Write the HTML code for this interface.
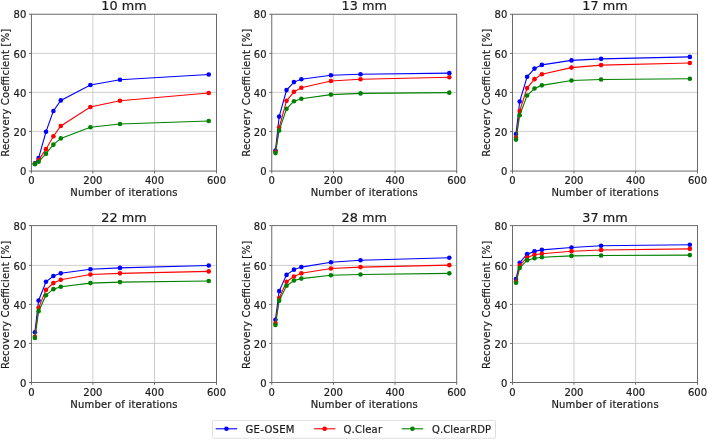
<!DOCTYPE html>
<html><head><meta charset="utf-8"><title>Recovery Coefficient</title>
<style>html,body{margin:0;padding:0;background:#fff;overflow:hidden;}svg{display:block;}</style>
</head><body>
<svg width="707" height="440" viewBox="0 0 707 440">
<style>
.gr{stroke:#c8c8c8;stroke-width:0.9;}
.sp{fill:none;stroke:#6a6a6a;stroke-width:1;}
.tk{stroke:#6a6a6a;stroke-width:1;}
text{font-family:'DejaVu Sans', 'Liberation Sans', sans-serif;fill:#1a1a1a;stroke:#1a1a1a;stroke-width:0.2px;}
.tl{font-size:10px;}
.lb{font-size:10px;}
.lg{font-size:10px;}
.ti{font-size:12.8px;}
</style>
<rect width="707" height="440" fill="#fff"/>
<line x1="92.85" y1="14.27" x2="92.85" y2="171.07" class="gr"/>
<line x1="154.5" y1="14.27" x2="154.5" y2="171.07" class="gr"/>
<line x1="31.45" y1="131.4" x2="216.5" y2="131.4" class="gr"/>
<line x1="31.45" y1="92.4" x2="216.5" y2="92.4" class="gr"/>
<line x1="31.45" y1="53.4" x2="216.5" y2="53.4" class="gr"/>
<polyline points="34.9,163.38 38.6,158.12 46,131.79 53.39,110.93 60.79,100.4 90.38,84.99 119.98,79.73 208.75,74.46" fill="none" stroke="#0000ff" stroke-width="1.1"/>
<circle cx="34.9" cy="163.38" r="2.3" fill="#0000ff"/>
<circle cx="38.6" cy="158.12" r="2.3" fill="#0000ff"/>
<circle cx="46" cy="131.79" r="2.3" fill="#0000ff"/>
<circle cx="53.39" cy="110.93" r="2.3" fill="#0000ff"/>
<circle cx="60.79" cy="100.4" r="2.3" fill="#0000ff"/>
<circle cx="90.38" cy="84.99" r="2.3" fill="#0000ff"/>
<circle cx="119.98" cy="79.73" r="2.3" fill="#0000ff"/>
<circle cx="208.75" cy="74.46" r="2.3" fill="#0000ff"/>
<polyline points="34.9,163.77 38.6,160.06 46,149.15 53.39,136.28 60.79,125.94 90.38,107.03 119.98,100.78 208.75,92.98" fill="none" stroke="#ff0000" stroke-width="1.1"/>
<circle cx="34.9" cy="163.77" r="2.3" fill="#ff0000"/>
<circle cx="38.6" cy="160.06" r="2.3" fill="#ff0000"/>
<circle cx="46" cy="149.15" r="2.3" fill="#ff0000"/>
<circle cx="53.39" cy="136.28" r="2.3" fill="#ff0000"/>
<circle cx="60.79" cy="125.94" r="2.3" fill="#ff0000"/>
<circle cx="90.38" cy="107.03" r="2.3" fill="#ff0000"/>
<circle cx="119.98" cy="100.78" r="2.3" fill="#ff0000"/>
<circle cx="208.75" cy="92.98" r="2.3" fill="#ff0000"/>
<polyline points="34.9,164.16 38.6,161.82 46,153.63 53.39,144.66 60.79,138.42 90.38,127.31 119.98,123.99 208.75,121.06" fill="none" stroke="#008000" stroke-width="1.1"/>
<circle cx="34.9" cy="164.16" r="2.3" fill="#008000"/>
<circle cx="38.6" cy="161.82" r="2.3" fill="#008000"/>
<circle cx="46" cy="153.63" r="2.3" fill="#008000"/>
<circle cx="53.39" cy="144.66" r="2.3" fill="#008000"/>
<circle cx="60.79" cy="138.42" r="2.3" fill="#008000"/>
<circle cx="90.38" cy="127.31" r="2.3" fill="#008000"/>
<circle cx="119.98" cy="123.99" r="2.3" fill="#008000"/>
<circle cx="208.75" cy="121.06" r="2.3" fill="#008000"/>
<rect x="31.45" y="14.27" width="185.05" height="156.8" class="sp"/>
<line x1="31.45" y1="171.07" x2="31.45" y2="173.37" class="tk"/>
<text x="31.45" y="183.87" text-anchor="middle" class="tl">0</text>
<line x1="92.85" y1="171.07" x2="92.85" y2="173.37" class="tk"/>
<text x="92.85" y="183.87" text-anchor="middle" class="tl">200</text>
<line x1="154.5" y1="171.07" x2="154.5" y2="173.37" class="tk"/>
<text x="154.5" y="183.87" text-anchor="middle" class="tl">400</text>
<line x1="216.5" y1="171.07" x2="216.5" y2="173.37" class="tk"/>
<text x="216.5" y="183.87" text-anchor="middle" class="tl">600</text>
<line x1="28.95" y1="171.07" x2="31.45" y2="171.07" class="tk"/>
<text x="26.25" y="174.67" text-anchor="end" class="tl">0</text>
<line x1="28.95" y1="131.4" x2="31.45" y2="131.4" class="tk"/>
<text x="26.25" y="135.6" text-anchor="end" class="tl">20</text>
<line x1="28.95" y1="92.4" x2="31.45" y2="92.4" class="tk"/>
<text x="26.25" y="96.6" text-anchor="end" class="tl">40</text>
<line x1="28.95" y1="53.4" x2="31.45" y2="53.4" class="tk"/>
<text x="26.25" y="57.6" text-anchor="end" class="tl">60</text>
<line x1="28.95" y1="14.27" x2="31.45" y2="14.27" class="tk"/>
<text x="26.25" y="17.87" text-anchor="end" class="tl">80</text>
<text x="123.97" y="10.37" text-anchor="middle" class="ti">10 mm</text>
<text x="123.97" y="195.67" text-anchor="middle" textLength="107.2" lengthAdjust="spacing" class="lb">Number of iterations</text>
<text transform="translate(9.25,92.72) rotate(-90)" x="0" y="0" text-anchor="middle" textLength="128" lengthAdjust="spacing" class="lb">Recovery Coefficient [%]</text>
<line x1="333.4" y1="14.27" x2="333.4" y2="171.07" class="gr"/>
<line x1="395.05" y1="14.27" x2="395.05" y2="171.07" class="gr"/>
<line x1="271.75" y1="131.4" x2="456.7" y2="131.4" class="gr"/>
<line x1="271.75" y1="92.4" x2="456.7" y2="92.4" class="gr"/>
<line x1="271.75" y1="53.4" x2="456.7" y2="53.4" class="gr"/>
<polyline points="275.45,150.55 279.15,116.62 286.55,90.1 293.94,82.11 301.34,79.18 330.93,75.28 360.53,74.31 449.3,73.14" fill="none" stroke="#0000ff" stroke-width="1.1"/>
<circle cx="275.45" cy="150.55" r="2.3" fill="#0000ff"/>
<circle cx="279.15" cy="116.62" r="2.3" fill="#0000ff"/>
<circle cx="286.55" cy="90.1" r="2.3" fill="#0000ff"/>
<circle cx="293.94" cy="82.11" r="2.3" fill="#0000ff"/>
<circle cx="301.34" cy="79.18" r="2.3" fill="#0000ff"/>
<circle cx="330.93" cy="75.28" r="2.3" fill="#0000ff"/>
<circle cx="360.53" cy="74.31" r="2.3" fill="#0000ff"/>
<circle cx="449.3" cy="73.14" r="2.3" fill="#0000ff"/>
<polyline points="275.45,151.72 279.15,127.54 286.55,100.83 293.94,91.86 301.34,87.76 330.93,80.94 360.53,79.18 449.3,77.23" fill="none" stroke="#ff0000" stroke-width="1.1"/>
<circle cx="275.45" cy="151.72" r="2.3" fill="#ff0000"/>
<circle cx="279.15" cy="127.54" r="2.3" fill="#ff0000"/>
<circle cx="286.55" cy="100.83" r="2.3" fill="#ff0000"/>
<circle cx="293.94" cy="91.86" r="2.3" fill="#ff0000"/>
<circle cx="301.34" cy="87.76" r="2.3" fill="#ff0000"/>
<circle cx="330.93" cy="80.94" r="2.3" fill="#ff0000"/>
<circle cx="360.53" cy="79.18" r="2.3" fill="#ff0000"/>
<circle cx="449.3" cy="77.23" r="2.3" fill="#ff0000"/>
<polyline points="275.45,153.09 279.15,130.47 286.55,108.82 293.94,101.22 301.34,98.68 330.93,94.59 360.53,93.42 449.3,92.64" fill="none" stroke="#008000" stroke-width="1.1"/>
<circle cx="275.45" cy="153.09" r="2.3" fill="#008000"/>
<circle cx="279.15" cy="130.47" r="2.3" fill="#008000"/>
<circle cx="286.55" cy="108.82" r="2.3" fill="#008000"/>
<circle cx="293.94" cy="101.22" r="2.3" fill="#008000"/>
<circle cx="301.34" cy="98.68" r="2.3" fill="#008000"/>
<circle cx="330.93" cy="94.59" r="2.3" fill="#008000"/>
<circle cx="360.53" cy="93.42" r="2.3" fill="#008000"/>
<circle cx="449.3" cy="92.64" r="2.3" fill="#008000"/>
<rect x="271.75" y="14.27" width="184.95" height="156.8" class="sp"/>
<line x1="271.75" y1="171.07" x2="271.75" y2="173.37" class="tk"/>
<text x="271.75" y="183.87" text-anchor="middle" class="tl">0</text>
<line x1="333.4" y1="171.07" x2="333.4" y2="173.37" class="tk"/>
<text x="333.4" y="183.87" text-anchor="middle" class="tl">200</text>
<line x1="395.05" y1="171.07" x2="395.05" y2="173.37" class="tk"/>
<text x="395.05" y="183.87" text-anchor="middle" class="tl">400</text>
<line x1="456.7" y1="171.07" x2="456.7" y2="173.37" class="tk"/>
<text x="456.7" y="183.87" text-anchor="middle" class="tl">600</text>
<line x1="269.25" y1="171.07" x2="271.75" y2="171.07" class="tk"/>
<text x="266.55" y="174.67" text-anchor="end" class="tl">0</text>
<line x1="269.25" y1="131.4" x2="271.75" y2="131.4" class="tk"/>
<text x="266.55" y="135.6" text-anchor="end" class="tl">20</text>
<line x1="269.25" y1="92.4" x2="271.75" y2="92.4" class="tk"/>
<text x="266.55" y="96.6" text-anchor="end" class="tl">40</text>
<line x1="269.25" y1="53.4" x2="271.75" y2="53.4" class="tk"/>
<text x="266.55" y="57.6" text-anchor="end" class="tl">60</text>
<line x1="269.25" y1="14.27" x2="271.75" y2="14.27" class="tk"/>
<text x="266.55" y="17.87" text-anchor="end" class="tl">80</text>
<text x="364.23" y="10.37" text-anchor="middle" class="ti">13 mm</text>
<text x="364.23" y="195.67" text-anchor="middle" textLength="107.2" lengthAdjust="spacing" class="lb">Number of iterations</text>
<text transform="translate(249.55,92.72) rotate(-90)" x="0" y="0" text-anchor="middle" textLength="128" lengthAdjust="spacing" class="lb">Recovery Coefficient [%]</text>
<line x1="573.95" y1="14.27" x2="573.95" y2="171.07" class="gr"/>
<line x1="635.6" y1="14.27" x2="635.6" y2="171.07" class="gr"/>
<line x1="512.5" y1="131.4" x2="697.5" y2="131.4" class="gr"/>
<line x1="512.5" y1="92.4" x2="697.5" y2="92.4" class="gr"/>
<line x1="512.5" y1="53.4" x2="697.5" y2="53.4" class="gr"/>
<polyline points="516,133.93 519.7,101.55 527.1,76.79 534.49,68.6 541.89,64.9 571.48,60.41 601.08,58.85 689.85,56.9" fill="none" stroke="#0000ff" stroke-width="1.1"/>
<circle cx="516" cy="133.93" r="2.3" fill="#0000ff"/>
<circle cx="519.7" cy="101.55" r="2.3" fill="#0000ff"/>
<circle cx="527.1" cy="76.79" r="2.3" fill="#0000ff"/>
<circle cx="534.49" cy="68.6" r="2.3" fill="#0000ff"/>
<circle cx="541.89" cy="64.9" r="2.3" fill="#0000ff"/>
<circle cx="571.48" cy="60.41" r="2.3" fill="#0000ff"/>
<circle cx="601.08" cy="58.85" r="2.3" fill="#0000ff"/>
<circle cx="689.85" cy="56.9" r="2.3" fill="#0000ff"/>
<polyline points="516,137.63 519.7,110.91 527.1,88.1 534.49,79.13 541.89,74.25 571.48,67.62 601.08,65.09 689.85,62.95" fill="none" stroke="#ff0000" stroke-width="1.1"/>
<circle cx="516" cy="137.63" r="2.3" fill="#ff0000"/>
<circle cx="519.7" cy="110.91" r="2.3" fill="#ff0000"/>
<circle cx="527.1" cy="88.1" r="2.3" fill="#ff0000"/>
<circle cx="534.49" cy="79.13" r="2.3" fill="#ff0000"/>
<circle cx="541.89" cy="74.25" r="2.3" fill="#ff0000"/>
<circle cx="571.48" cy="67.62" r="2.3" fill="#ff0000"/>
<circle cx="601.08" cy="65.09" r="2.3" fill="#ff0000"/>
<circle cx="689.85" cy="62.95" r="2.3" fill="#ff0000"/>
<polyline points="516,139.58 519.7,115.2 527.1,95.51 534.49,88.49 541.89,85.37 571.48,80.5 601.08,79.52 689.85,78.74" fill="none" stroke="#008000" stroke-width="1.1"/>
<circle cx="516" cy="139.58" r="2.3" fill="#008000"/>
<circle cx="519.7" cy="115.2" r="2.3" fill="#008000"/>
<circle cx="527.1" cy="95.51" r="2.3" fill="#008000"/>
<circle cx="534.49" cy="88.49" r="2.3" fill="#008000"/>
<circle cx="541.89" cy="85.37" r="2.3" fill="#008000"/>
<circle cx="571.48" cy="80.5" r="2.3" fill="#008000"/>
<circle cx="601.08" cy="79.52" r="2.3" fill="#008000"/>
<circle cx="689.85" cy="78.74" r="2.3" fill="#008000"/>
<rect x="512.5" y="14.27" width="185" height="156.8" class="sp"/>
<line x1="512.5" y1="171.07" x2="512.5" y2="173.37" class="tk"/>
<text x="512.5" y="183.87" text-anchor="middle" class="tl">0</text>
<line x1="573.95" y1="171.07" x2="573.95" y2="173.37" class="tk"/>
<text x="573.95" y="183.87" text-anchor="middle" class="tl">200</text>
<line x1="635.6" y1="171.07" x2="635.6" y2="173.37" class="tk"/>
<text x="635.6" y="183.87" text-anchor="middle" class="tl">400</text>
<line x1="697.5" y1="171.07" x2="697.5" y2="173.37" class="tk"/>
<text x="697.5" y="183.87" text-anchor="middle" class="tl">600</text>
<line x1="510" y1="171.07" x2="512.5" y2="171.07" class="tk"/>
<text x="507.3" y="174.67" text-anchor="end" class="tl">0</text>
<line x1="510" y1="131.4" x2="512.5" y2="131.4" class="tk"/>
<text x="507.3" y="135.6" text-anchor="end" class="tl">20</text>
<line x1="510" y1="92.4" x2="512.5" y2="92.4" class="tk"/>
<text x="507.3" y="96.6" text-anchor="end" class="tl">40</text>
<line x1="510" y1="53.4" x2="512.5" y2="53.4" class="tk"/>
<text x="507.3" y="57.6" text-anchor="end" class="tl">60</text>
<line x1="510" y1="14.27" x2="512.5" y2="14.27" class="tk"/>
<text x="507.3" y="17.87" text-anchor="end" class="tl">80</text>
<text x="605" y="10.37" text-anchor="middle" class="ti">17 mm</text>
<text x="605" y="195.67" text-anchor="middle" textLength="107.2" lengthAdjust="spacing" class="lb">Number of iterations</text>
<text transform="translate(490.3,92.72) rotate(-90)" x="0" y="0" text-anchor="middle" textLength="128" lengthAdjust="spacing" class="lb">Recovery Coefficient [%]</text>
<line x1="92.85" y1="225.6" x2="92.85" y2="382.5" class="gr"/>
<line x1="154.5" y1="225.6" x2="154.5" y2="382.5" class="gr"/>
<line x1="31.45" y1="343.4" x2="216.5" y2="343.4" class="gr"/>
<line x1="31.45" y1="304.4" x2="216.5" y2="304.4" class="gr"/>
<line x1="31.45" y1="265.4" x2="216.5" y2="265.4" class="gr"/>
<polyline points="34.9,332.22 38.6,300.44 46,281.72 53.39,276.06 60.79,273.33 90.38,269.24 119.98,267.88 208.75,265.53" fill="none" stroke="#0000ff" stroke-width="1.1"/>
<circle cx="34.9" cy="332.22" r="2.3" fill="#0000ff"/>
<circle cx="38.6" cy="300.44" r="2.3" fill="#0000ff"/>
<circle cx="46" cy="281.72" r="2.3" fill="#0000ff"/>
<circle cx="53.39" cy="276.06" r="2.3" fill="#0000ff"/>
<circle cx="60.79" cy="273.33" r="2.3" fill="#0000ff"/>
<circle cx="90.38" cy="269.24" r="2.3" fill="#0000ff"/>
<circle cx="119.98" cy="267.88" r="2.3" fill="#0000ff"/>
<circle cx="208.75" cy="265.53" r="2.3" fill="#0000ff"/>
<polyline points="34.9,336.71 38.6,307.85 46,289.91 53.39,283.08 60.79,279.77 90.38,274.5 119.98,273.33 208.75,271.38" fill="none" stroke="#ff0000" stroke-width="1.1"/>
<circle cx="34.9" cy="336.71" r="2.3" fill="#ff0000"/>
<circle cx="38.6" cy="307.85" r="2.3" fill="#ff0000"/>
<circle cx="46" cy="289.91" r="2.3" fill="#ff0000"/>
<circle cx="53.39" cy="283.08" r="2.3" fill="#ff0000"/>
<circle cx="60.79" cy="279.77" r="2.3" fill="#ff0000"/>
<circle cx="90.38" cy="274.5" r="2.3" fill="#ff0000"/>
<circle cx="119.98" cy="273.33" r="2.3" fill="#ff0000"/>
<circle cx="208.75" cy="271.38" r="2.3" fill="#ff0000"/>
<polyline points="34.9,338.07 38.6,311.17 46,295.18 53.39,289.13 60.79,286.79 90.38,283.08 119.98,282.11 208.75,280.94" fill="none" stroke="#008000" stroke-width="1.1"/>
<circle cx="34.9" cy="338.07" r="2.3" fill="#008000"/>
<circle cx="38.6" cy="311.17" r="2.3" fill="#008000"/>
<circle cx="46" cy="295.18" r="2.3" fill="#008000"/>
<circle cx="53.39" cy="289.13" r="2.3" fill="#008000"/>
<circle cx="60.79" cy="286.79" r="2.3" fill="#008000"/>
<circle cx="90.38" cy="283.08" r="2.3" fill="#008000"/>
<circle cx="119.98" cy="282.11" r="2.3" fill="#008000"/>
<circle cx="208.75" cy="280.94" r="2.3" fill="#008000"/>
<rect x="31.45" y="225.6" width="185.05" height="156.9" class="sp"/>
<line x1="31.45" y1="382.5" x2="31.45" y2="384.8" class="tk"/>
<text x="31.45" y="395.7" text-anchor="middle" class="tl">0</text>
<line x1="92.85" y1="382.5" x2="92.85" y2="384.8" class="tk"/>
<text x="92.85" y="395.7" text-anchor="middle" class="tl">200</text>
<line x1="154.5" y1="382.5" x2="154.5" y2="384.8" class="tk"/>
<text x="154.5" y="395.7" text-anchor="middle" class="tl">400</text>
<line x1="216.5" y1="382.5" x2="216.5" y2="384.8" class="tk"/>
<text x="216.5" y="395.7" text-anchor="middle" class="tl">600</text>
<line x1="28.95" y1="382.5" x2="31.45" y2="382.5" class="tk"/>
<text x="26.25" y="387" text-anchor="end" class="tl">0</text>
<line x1="28.95" y1="343.4" x2="31.45" y2="343.4" class="tk"/>
<text x="26.25" y="347.6" text-anchor="end" class="tl">20</text>
<line x1="28.95" y1="304.4" x2="31.45" y2="304.4" class="tk"/>
<text x="26.25" y="308.6" text-anchor="end" class="tl">40</text>
<line x1="28.95" y1="265.4" x2="31.45" y2="265.4" class="tk"/>
<text x="26.25" y="269.6" text-anchor="end" class="tl">60</text>
<line x1="28.95" y1="225.6" x2="31.45" y2="225.6" class="tk"/>
<text x="26.25" y="229.9" text-anchor="end" class="tl">80</text>
<text x="123.97" y="221.7" text-anchor="middle" class="ti">22 mm</text>
<text x="123.97" y="408" text-anchor="middle" textLength="107.2" lengthAdjust="spacing" class="lb">Number of iterations</text>
<text transform="translate(9.25,304.95) rotate(-90)" x="0" y="0" text-anchor="middle" textLength="128" lengthAdjust="spacing" class="lb">Recovery Coefficient [%]</text>
<line x1="333.4" y1="225.6" x2="333.4" y2="382.5" class="gr"/>
<line x1="395.05" y1="225.6" x2="395.05" y2="382.5" class="gr"/>
<line x1="271.75" y1="343.4" x2="456.7" y2="343.4" class="gr"/>
<line x1="271.75" y1="304.4" x2="456.7" y2="304.4" class="gr"/>
<line x1="271.75" y1="265.4" x2="456.7" y2="265.4" class="gr"/>
<polyline points="275.45,319.75 279.15,291.08 286.55,274.89 293.94,269.63 301.34,267.09 330.93,262.22 360.53,260.27 449.3,257.73" fill="none" stroke="#0000ff" stroke-width="1.1"/>
<circle cx="275.45" cy="319.75" r="2.3" fill="#0000ff"/>
<circle cx="279.15" cy="291.08" r="2.3" fill="#0000ff"/>
<circle cx="286.55" cy="274.89" r="2.3" fill="#0000ff"/>
<circle cx="293.94" cy="269.63" r="2.3" fill="#0000ff"/>
<circle cx="301.34" cy="267.09" r="2.3" fill="#0000ff"/>
<circle cx="330.93" cy="262.22" r="2.3" fill="#0000ff"/>
<circle cx="360.53" cy="260.27" r="2.3" fill="#0000ff"/>
<circle cx="449.3" cy="257.73" r="2.3" fill="#0000ff"/>
<polyline points="275.45,323.25 279.15,298.1 286.55,281.72 293.94,276.45 301.34,273.33 330.93,268.46 360.53,267.09 449.3,265.14" fill="none" stroke="#ff0000" stroke-width="1.1"/>
<circle cx="275.45" cy="323.25" r="2.3" fill="#ff0000"/>
<circle cx="279.15" cy="298.1" r="2.3" fill="#ff0000"/>
<circle cx="286.55" cy="281.72" r="2.3" fill="#ff0000"/>
<circle cx="293.94" cy="276.45" r="2.3" fill="#ff0000"/>
<circle cx="301.34" cy="273.33" r="2.3" fill="#ff0000"/>
<circle cx="330.93" cy="268.46" r="2.3" fill="#ff0000"/>
<circle cx="360.53" cy="267.09" r="2.3" fill="#ff0000"/>
<circle cx="449.3" cy="265.14" r="2.3" fill="#ff0000"/>
<polyline points="275.45,325.01 279.15,300.63 286.55,285.81 293.94,280.55 301.34,278.6 330.93,275.28 360.53,274.5 449.3,273.33" fill="none" stroke="#008000" stroke-width="1.1"/>
<circle cx="275.45" cy="325.01" r="2.3" fill="#008000"/>
<circle cx="279.15" cy="300.63" r="2.3" fill="#008000"/>
<circle cx="286.55" cy="285.81" r="2.3" fill="#008000"/>
<circle cx="293.94" cy="280.55" r="2.3" fill="#008000"/>
<circle cx="301.34" cy="278.6" r="2.3" fill="#008000"/>
<circle cx="330.93" cy="275.28" r="2.3" fill="#008000"/>
<circle cx="360.53" cy="274.5" r="2.3" fill="#008000"/>
<circle cx="449.3" cy="273.33" r="2.3" fill="#008000"/>
<rect x="271.75" y="225.6" width="184.95" height="156.9" class="sp"/>
<line x1="271.75" y1="382.5" x2="271.75" y2="384.8" class="tk"/>
<text x="271.75" y="395.7" text-anchor="middle" class="tl">0</text>
<line x1="333.4" y1="382.5" x2="333.4" y2="384.8" class="tk"/>
<text x="333.4" y="395.7" text-anchor="middle" class="tl">200</text>
<line x1="395.05" y1="382.5" x2="395.05" y2="384.8" class="tk"/>
<text x="395.05" y="395.7" text-anchor="middle" class="tl">400</text>
<line x1="456.7" y1="382.5" x2="456.7" y2="384.8" class="tk"/>
<text x="456.7" y="395.7" text-anchor="middle" class="tl">600</text>
<line x1="269.25" y1="382.5" x2="271.75" y2="382.5" class="tk"/>
<text x="266.55" y="387" text-anchor="end" class="tl">0</text>
<line x1="269.25" y1="343.4" x2="271.75" y2="343.4" class="tk"/>
<text x="266.55" y="347.6" text-anchor="end" class="tl">20</text>
<line x1="269.25" y1="304.4" x2="271.75" y2="304.4" class="tk"/>
<text x="266.55" y="308.6" text-anchor="end" class="tl">40</text>
<line x1="269.25" y1="265.4" x2="271.75" y2="265.4" class="tk"/>
<text x="266.55" y="269.6" text-anchor="end" class="tl">60</text>
<line x1="269.25" y1="225.6" x2="271.75" y2="225.6" class="tk"/>
<text x="266.55" y="229.9" text-anchor="end" class="tl">80</text>
<text x="364.23" y="221.7" text-anchor="middle" class="ti">28 mm</text>
<text x="364.23" y="408" text-anchor="middle" textLength="107.2" lengthAdjust="spacing" class="lb">Number of iterations</text>
<text transform="translate(249.55,304.95) rotate(-90)" x="0" y="0" text-anchor="middle" textLength="128" lengthAdjust="spacing" class="lb">Recovery Coefficient [%]</text>
<line x1="573.95" y1="225.6" x2="573.95" y2="382.5" class="gr"/>
<line x1="635.6" y1="225.6" x2="635.6" y2="382.5" class="gr"/>
<line x1="512.5" y1="343.4" x2="697.5" y2="343.4" class="gr"/>
<line x1="512.5" y1="304.4" x2="697.5" y2="304.4" class="gr"/>
<line x1="512.5" y1="265.4" x2="697.5" y2="265.4" class="gr"/>
<polyline points="516,279.09 519.7,262.71 527.1,254.13 534.49,251.4 541.89,249.84 571.48,247.5 601.08,245.74 689.85,244.77" fill="none" stroke="#0000ff" stroke-width="1.1"/>
<circle cx="516" cy="279.09" r="2.3" fill="#0000ff"/>
<circle cx="519.7" cy="262.71" r="2.3" fill="#0000ff"/>
<circle cx="527.1" cy="254.13" r="2.3" fill="#0000ff"/>
<circle cx="534.49" cy="251.4" r="2.3" fill="#0000ff"/>
<circle cx="541.89" cy="249.84" r="2.3" fill="#0000ff"/>
<circle cx="571.48" cy="247.5" r="2.3" fill="#0000ff"/>
<circle cx="601.08" cy="245.74" r="2.3" fill="#0000ff"/>
<circle cx="689.85" cy="244.77" r="2.3" fill="#0000ff"/>
<polyline points="516,281.62 519.7,265.63 527.1,257.44 534.49,254.72 541.89,253.74 571.48,251.2 601.08,250.03 689.85,248.86" fill="none" stroke="#ff0000" stroke-width="1.1"/>
<circle cx="516" cy="281.62" r="2.3" fill="#ff0000"/>
<circle cx="519.7" cy="265.63" r="2.3" fill="#ff0000"/>
<circle cx="527.1" cy="257.44" r="2.3" fill="#ff0000"/>
<circle cx="534.49" cy="254.72" r="2.3" fill="#ff0000"/>
<circle cx="541.89" cy="253.74" r="2.3" fill="#ff0000"/>
<circle cx="571.48" cy="251.2" r="2.3" fill="#ff0000"/>
<circle cx="601.08" cy="250.03" r="2.3" fill="#ff0000"/>
<circle cx="689.85" cy="248.86" r="2.3" fill="#ff0000"/>
<polyline points="516,282.79 519.7,267.97 527.1,260.17 534.49,258.22 541.89,257.25 571.48,255.88 601.08,255.49 689.85,255.1" fill="none" stroke="#008000" stroke-width="1.1"/>
<circle cx="516" cy="282.79" r="2.3" fill="#008000"/>
<circle cx="519.7" cy="267.97" r="2.3" fill="#008000"/>
<circle cx="527.1" cy="260.17" r="2.3" fill="#008000"/>
<circle cx="534.49" cy="258.22" r="2.3" fill="#008000"/>
<circle cx="541.89" cy="257.25" r="2.3" fill="#008000"/>
<circle cx="571.48" cy="255.88" r="2.3" fill="#008000"/>
<circle cx="601.08" cy="255.49" r="2.3" fill="#008000"/>
<circle cx="689.85" cy="255.1" r="2.3" fill="#008000"/>
<rect x="512.5" y="225.6" width="185" height="156.9" class="sp"/>
<line x1="512.5" y1="382.5" x2="512.5" y2="384.8" class="tk"/>
<text x="512.5" y="395.7" text-anchor="middle" class="tl">0</text>
<line x1="573.95" y1="382.5" x2="573.95" y2="384.8" class="tk"/>
<text x="573.95" y="395.7" text-anchor="middle" class="tl">200</text>
<line x1="635.6" y1="382.5" x2="635.6" y2="384.8" class="tk"/>
<text x="635.6" y="395.7" text-anchor="middle" class="tl">400</text>
<line x1="697.5" y1="382.5" x2="697.5" y2="384.8" class="tk"/>
<text x="697.5" y="395.7" text-anchor="middle" class="tl">600</text>
<line x1="510" y1="382.5" x2="512.5" y2="382.5" class="tk"/>
<text x="507.3" y="387" text-anchor="end" class="tl">0</text>
<line x1="510" y1="343.4" x2="512.5" y2="343.4" class="tk"/>
<text x="507.3" y="347.6" text-anchor="end" class="tl">20</text>
<line x1="510" y1="304.4" x2="512.5" y2="304.4" class="tk"/>
<text x="507.3" y="308.6" text-anchor="end" class="tl">40</text>
<line x1="510" y1="265.4" x2="512.5" y2="265.4" class="tk"/>
<text x="507.3" y="269.6" text-anchor="end" class="tl">60</text>
<line x1="510" y1="225.6" x2="512.5" y2="225.6" class="tk"/>
<text x="507.3" y="229.9" text-anchor="end" class="tl">80</text>
<text x="605" y="221.7" text-anchor="middle" class="ti">37 mm</text>
<text x="605" y="408" text-anchor="middle" textLength="107.2" lengthAdjust="spacing" class="lb">Number of iterations</text>
<text transform="translate(490.3,304.95) rotate(-90)" x="0" y="0" text-anchor="middle" textLength="128" lengthAdjust="spacing" class="lb">Recovery Coefficient [%]</text>
<rect x="212.5" y="420.4" width="283" height="17.8" rx="1.2" ry="1.2" fill="#fff" stroke="#e0e0e0" stroke-width="1"/>
<line x1="215.7" y1="428.8" x2="237.2" y2="428.8" stroke="#0000ff" stroke-width="1.1"/>
<circle cx="226.45" cy="428.8" r="2.3" fill="#0000ff"/>
<text x="245.6" y="432.5" textLength="48.8" lengthAdjust="spacing" class="lg">GE-OSEM</text>
<line x1="313.9" y1="428.8" x2="335.4" y2="428.8" stroke="#ff0000" stroke-width="1.1"/>
<circle cx="324.65" cy="428.8" r="2.3" fill="#ff0000"/>
<text x="343.5" y="432.5" textLength="38.5" lengthAdjust="spacing" class="lg">Q.Clear</text>
<line x1="401.7" y1="428.8" x2="423.2" y2="428.8" stroke="#008000" stroke-width="1.1"/>
<circle cx="412.45" cy="428.8" r="2.3" fill="#008000"/>
<text x="431.9" y="432.5" textLength="59.2" lengthAdjust="spacing" class="lg">Q.ClearRDP</text>
</svg>
</body></html>
